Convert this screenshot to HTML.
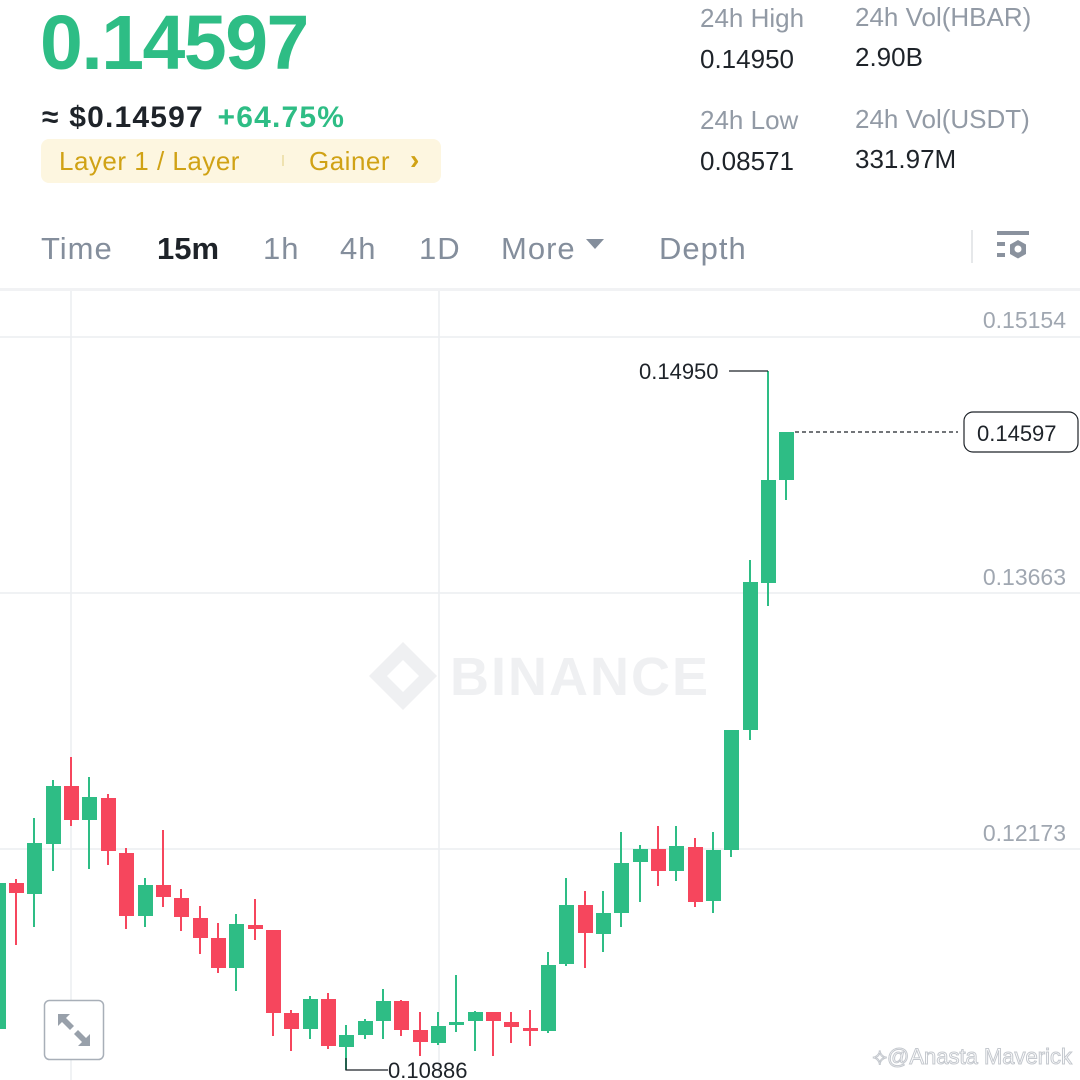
<!DOCTYPE html>
<html><head><meta charset="utf-8"><style>
body{margin:0;width:1080px;height:1080px;background:#fff;overflow:hidden;font-family:"Liberation Sans",sans-serif;position:relative}
.a{position:absolute;white-space:nowrap}
</style></head><body>
<div class="a" style="left:40px;top:0px;font-size:77px;font-weight:bold;color:#2ebd85;letter-spacing:-1.5px;line-height:86px">0.14597</div>
<div class="a" style="left:42px;top:100px;font-size:30px;font-weight:bold;color:#1e2329;line-height:36px;letter-spacing:1.2px">≈ $0.14597 <span style="color:#2ebd85;margin-left:4px">+64.75%</span></div>
<div class="a" style="left:41px;top:139px;width:400px;height:44px;background:#fdf6e0;border-radius:8px"></div>
<div class="a" style="left:59px;top:145px;font-size:26px;color:#d0a215;line-height:32px;letter-spacing:0.5px">Layer 1 / Layer</div>
<div class="a" style="left:282px;top:155px;width:2px;height:11px;background:#efe2b0"></div>
<div class="a" style="left:309px;top:145px;font-size:26px;color:#d0a215;line-height:32px;letter-spacing:0.5px">Gainer</div>
<div class="a" style="left:410px;top:144px;font-size:28px;font-weight:bold;color:#d0a215;line-height:32px">›</div>
<div class="a" style="left:700px;top:3px;font-size:26px;color:#929aa5">24h High</div>
<div class="a" style="left:700px;top:44px;font-size:26px;color:#1e2329">0.14950</div>
<div class="a" style="left:855px;top:2px;font-size:26px;color:#929aa5">24h Vol(HBAR)</div>
<div class="a" style="left:855px;top:42px;font-size:26px;color:#1e2329">2.90B</div>
<div class="a" style="left:700px;top:105px;font-size:26px;color:#929aa5">24h Low</div>
<div class="a" style="left:700px;top:146px;font-size:26px;color:#1e2329">0.08571</div>
<div class="a" style="left:855px;top:104px;font-size:26px;color:#929aa5">24h Vol(USDT)</div>
<div class="a" style="left:855px;top:144px;font-size:26px;color:#1e2329">331.97M</div>
<div class="a" style="left:41px;top:231px;font-size:31px;color:#848e9c;letter-spacing:1px">Time</div>
<div class="a" style="left:157px;top:231px;font-size:31px;color:#1e2329;font-weight:bold">15m</div>
<div class="a" style="left:263px;top:231px;font-size:31px;color:#848e9c;letter-spacing:1px">1h</div>
<div class="a" style="left:340px;top:231px;font-size:31px;color:#848e9c;letter-spacing:1px">4h</div>
<div class="a" style="left:419px;top:231px;font-size:31px;color:#848e9c;letter-spacing:1px">1D</div>
<div class="a" style="left:501px;top:231px;font-size:31px;color:#848e9c;letter-spacing:1px">More</div>
<div class="a" style="left:586px;top:239px;width:0;height:0;border-left:9px solid transparent;border-right:9px solid transparent;border-top:10px solid #848e9c"></div>
<div class="a" style="left:659px;top:231px;font-size:31px;color:#848e9c;letter-spacing:1px">Depth</div>
<div class="a" style="left:971px;top:230px;width:2px;height:33px;background:#e6e8ea"></div>
<svg class="a" style="left:996px;top:230px" width="34" height="34" viewBox="0 0 34 34"><rect x="1" y="1" width="32" height="4" fill="#8a929e"/><rect x="1" y="12" width="8" height="4" fill="#8a929e"/><rect x="1" y="23" width="8" height="4" fill="#8a929e"/><polygon points="22,10 30,14.5 30,24 22,28.5 14,24 14,14.5" fill="#8a929e"/><circle cx="22" cy="19" r="3.5" fill="#fff"/></svg>
<div class="a" style="left:0;top:288px;width:1080px;height:3px;background:#f1f2f4"></div>
<svg class="a" style="left:0;top:0" width="1080" height="1080">
<g stroke="#eceef1" stroke-width="1.5">
<line x1="0" y1="337" x2="1080" y2="337"/><line x1="0" y1="593" x2="1080" y2="593"/><line x1="0" y1="849" x2="1080" y2="849"/>
<line x1="71" y1="291" x2="71" y2="1080"/><line x1="439" y1="291" x2="439" y2="1080"/>
</g>
<g fill="#eff0f2"><polygon points="403,642 437,676 403,710 369,676"/></g>
<polygon points="403,660 419,676 403,692 387,676" fill="#fff"/>
<text x="450" y="695" font-family="Liberation Sans" font-weight="bold" font-size="54" fill="#eff0f2" letter-spacing="2">BINANCE</text>
<g font-family="Liberation Sans" font-size="23" fill="#a0a7b1" text-anchor="end">
<text x="1066" y="328">0.15154</text><text x="1066" y="585">0.13663</text><text x="1066" y="841">0.12173</text>
</g>
<g fill="#f6465d" stroke="none">
<rect x="15" y="879" width="2" height="66"/><rect x="9" y="883" width="15" height="10"/>
<rect x="70" y="757" width="2" height="69"/><rect x="64" y="786" width="15" height="34"/>
<rect x="107" y="794" width="2" height="71"/><rect x="101" y="798" width="15" height="53"/>
<rect x="125" y="848" width="2" height="81"/><rect x="119" y="853" width="15" height="63"/>
<rect x="162" y="830" width="2" height="77"/><rect x="156" y="885" width="15" height="12"/>
<rect x="180" y="889" width="2" height="42"/><rect x="174" y="898" width="15" height="19"/>
<rect x="199" y="906" width="2" height="48"/><rect x="193" y="918" width="15" height="20"/>
<rect x="217" y="923" width="2" height="50"/><rect x="211" y="938" width="15" height="30"/>
<rect x="254" y="899" width="2" height="41"/><rect x="248" y="925" width="15" height="4"/>
<rect x="272" y="930" width="2" height="106"/><rect x="266" y="930" width="15" height="83"/>
<rect x="290" y="1010" width="2" height="41"/><rect x="284" y="1013" width="15" height="16"/>
<rect x="327" y="993" width="2" height="56"/><rect x="321" y="999" width="15" height="47"/>
<rect x="400" y="1000" width="2" height="36"/><rect x="394" y="1001" width="15" height="29"/>
<rect x="419" y="1012" width="2" height="44"/><rect x="413" y="1030" width="15" height="12"/>
<rect x="492" y="1012" width="2" height="44"/><rect x="486" y="1012" width="15" height="9"/>
<rect x="510" y="1012" width="2" height="31"/><rect x="504" y="1022" width="15" height="5"/>
<rect x="529" y="1010" width="2" height="36"/><rect x="523" y="1028" width="15" height="3"/>
<rect x="584" y="891" width="2" height="77"/><rect x="578" y="905" width="15" height="28"/>
<rect x="657" y="826" width="2" height="60"/><rect x="651" y="849" width="15" height="22"/>
<rect x="694" y="838" width="2" height="69"/><rect x="688" y="847" width="15" height="55"/>
</g>
<g fill="#2ebd85">
<rect x="0" y="883" width="6" height="146"/>
<rect x="33" y="818" width="2" height="109"/><rect x="27" y="843" width="15" height="51"/>
<rect x="52" y="780" width="2" height="91"/><rect x="46" y="786" width="15" height="58"/>
<rect x="88" y="777" width="2" height="92"/><rect x="82" y="797" width="15" height="23"/>
<rect x="144" y="878" width="2" height="49"/><rect x="138" y="885" width="15" height="31"/>
<rect x="235" y="914" width="2" height="77"/><rect x="229" y="924" width="15" height="44"/>
<rect x="309" y="996" width="2" height="43"/><rect x="303" y="999" width="15" height="30"/>
<rect x="345" y="1025" width="2" height="45"/><rect x="339" y="1035" width="15" height="12"/>
<rect x="364" y="1019" width="2" height="20"/><rect x="358" y="1021" width="15" height="14"/>
<rect x="382" y="989" width="2" height="50"/><rect x="376" y="1001" width="15" height="20"/>
<rect x="437" y="1012" width="2" height="33"/><rect x="431" y="1026" width="15" height="17"/>
<rect x="455" y="975" width="2" height="57"/><rect x="449" y="1022" width="15" height="3"/>
<rect x="474" y="1011" width="2" height="40"/><rect x="468" y="1012" width="15" height="9"/>
<rect x="547" y="952" width="2" height="81"/><rect x="541" y="965" width="15" height="66"/>
<rect x="565" y="878" width="2" height="88"/><rect x="559" y="905" width="15" height="59"/>
<rect x="602" y="891" width="2" height="61"/><rect x="596" y="913" width="15" height="21"/>
<rect x="620" y="832" width="2" height="95"/><rect x="614" y="863" width="15" height="50"/>
<rect x="639" y="845" width="2" height="57"/><rect x="633" y="849" width="15" height="13"/>
<rect x="675" y="826" width="2" height="55"/><rect x="669" y="846" width="15" height="25"/>
<rect x="712" y="832" width="2" height="81"/><rect x="706" y="850" width="15" height="51"/>
<rect x="730" y="730" width="2" height="127"/><rect x="724" y="730" width="15" height="120"/>
<rect x="749" y="560" width="2" height="180"/><rect x="743" y="582" width="15" height="148"/>
<rect x="767" y="371" width="2" height="235"/><rect x="761" y="480" width="15" height="103"/>
<rect x="785" y="432" width="2" height="68"/><rect x="779" y="432" width="15" height="48"/>
</g>
<g stroke="#1e2329" stroke-width="1.2" fill="none">
<polyline points="729,371 768,371"/><polyline points="346,1058 346,1070 388,1070"/>
<line x1="795" y1="432" x2="958" y2="432" stroke-dasharray="4,3"/>
<rect x="964" y="412" width="114" height="40" rx="9"/>
</g>
<g font-family="Liberation Sans" font-size="22" fill="#1e2329">
<text x="639" y="379">0.14950</text><text x="388" y="1078">0.10886</text>
<text x="977" y="441">0.14597</text>
</g>
<rect x="44.5" y="1000.5" width="59" height="59" rx="5" fill="#fff" stroke="#a8afb8" stroke-width="1.5"/>
<g fill="#98a0aa"><polygon points="58,1014 70,1014 66,1018 74,1026 70,1030 62,1022 58,1026"/><polygon points="90,1046 78,1046 82,1042 74,1034 78,1030 86,1038 90,1034"/></g>
<text x="1072" y="1064" text-anchor="end" font-family="Liberation Sans" font-size="22" fill="#fff" stroke="#c4c8ce" stroke-width="1">⟡@Anasta Maverick</text>
</svg>
</body></html>
